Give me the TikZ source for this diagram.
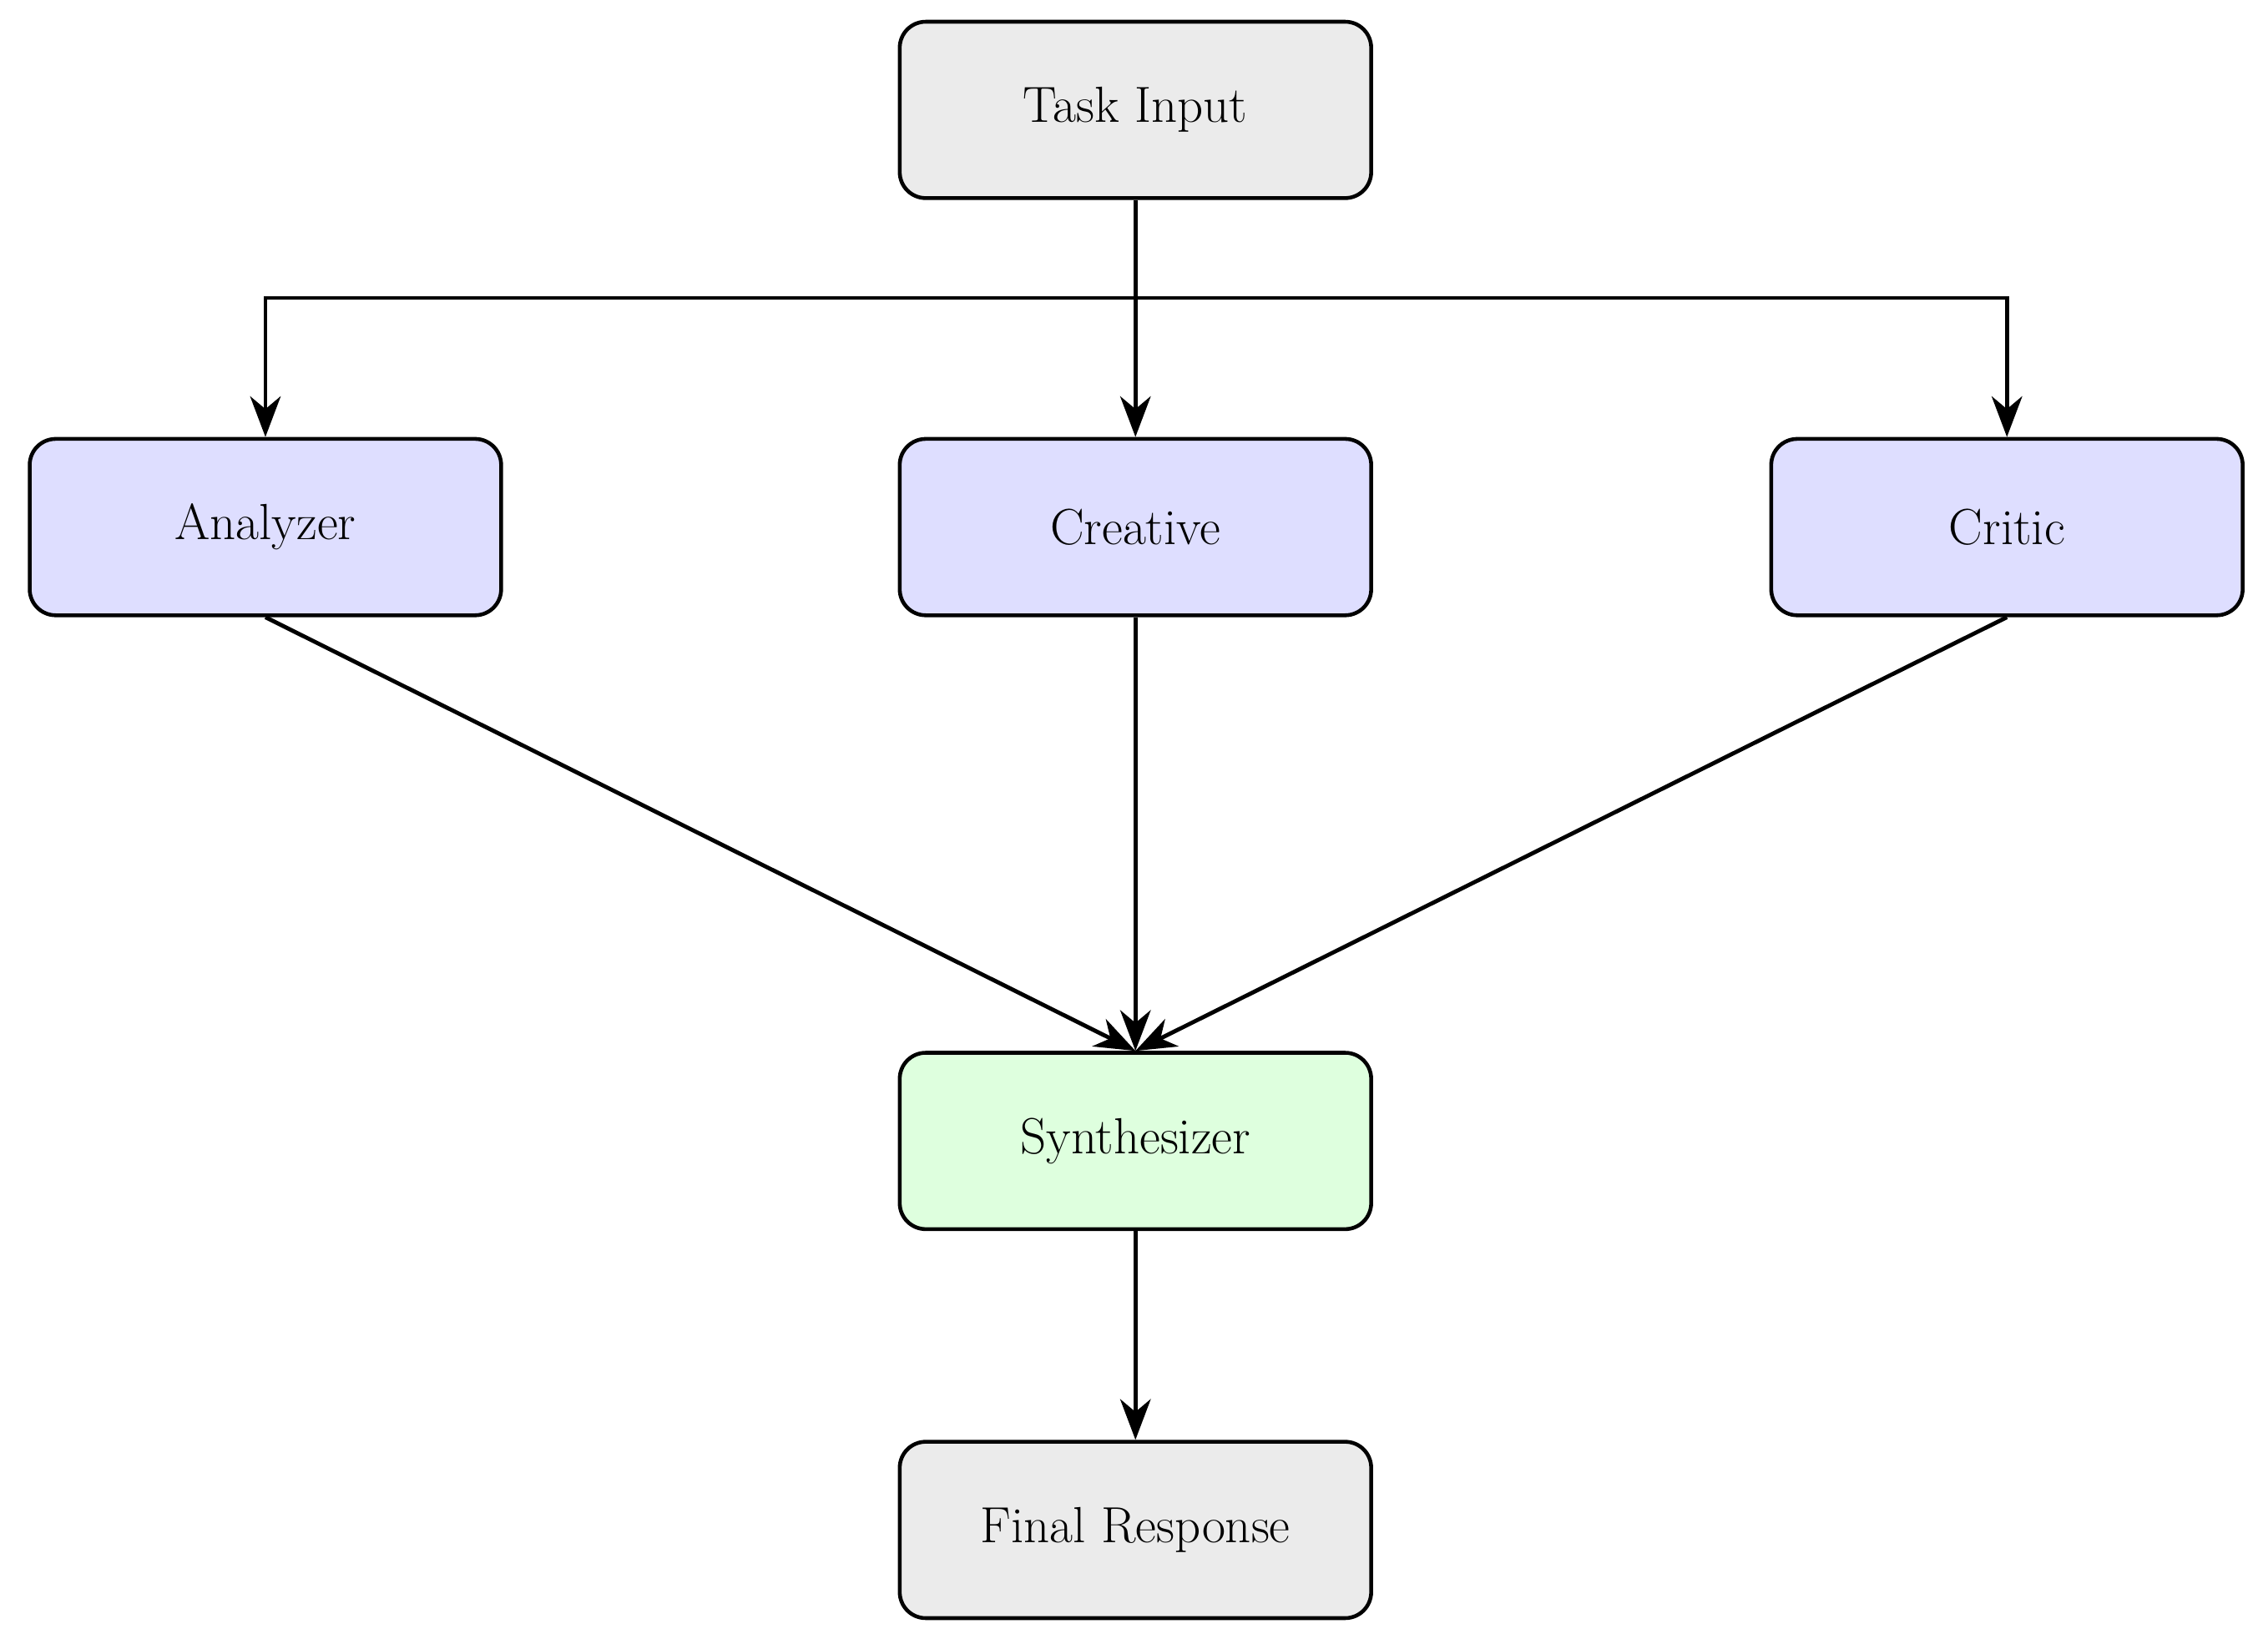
\documentclass[tikz,border=0pt]{standalone}
\usepackage{mathpazo}
\usetikzlibrary{arrows.meta}
\begin{document}
\begin{tikzpicture}[x=0.02cm,y=-0.02cm,
  box/.style={draw=black,line width=1.5pt,rounded corners=0.36cm,minimum width=6.52cm,minimum height=2.44cm,inner sep=0pt,font=\fontsize{20}{24}\selectfont},
  gray/.style={box,fill=black!8},
  agent/.style={box,fill=blue!13,font=\fontsize{20}{24}\selectfont\bfseries},
  syn/.style={box,fill=green!13,font=\fontsize{20}{24}\selectfont\bfseries},
  arr/.style={line width=1.6pt,-{Stealth[length=16pt,width=12pt,inset=5pt]}}]
\useasboundingbox (0,0) rectangle (1568,1133);
\node[gray] (task) at (785,76) {Task Input};
\node[agent] (ana) at (183.5,364.5) {Analyzer};
\node[agent] (cre) at (785,364.5) {Creative};
\node[agent] (cri) at (1387.5,364.5) {Critic};
\node[syn] (syn) at (785,789) {Synthesizer};
\node[gray] (fin) at (785,1058) {Final Response};
\coordinate (br) at (785,206);
\draw[line width=1.6pt] (task.south) -- (br);
\draw[arr] (br) -| (ana.north);
\draw[arr] (br) -- (cre.north);
\draw[arr] (br) -| (cri.north);
\draw[arr] (ana.south) -- (syn.north);
\draw[arr] (cre.south) -- (syn.north);
\draw[arr] (cri.south) -- (syn.north);
\draw[arr] (syn.south) -- (fin.north);
\end{tikzpicture}
\end{document}
